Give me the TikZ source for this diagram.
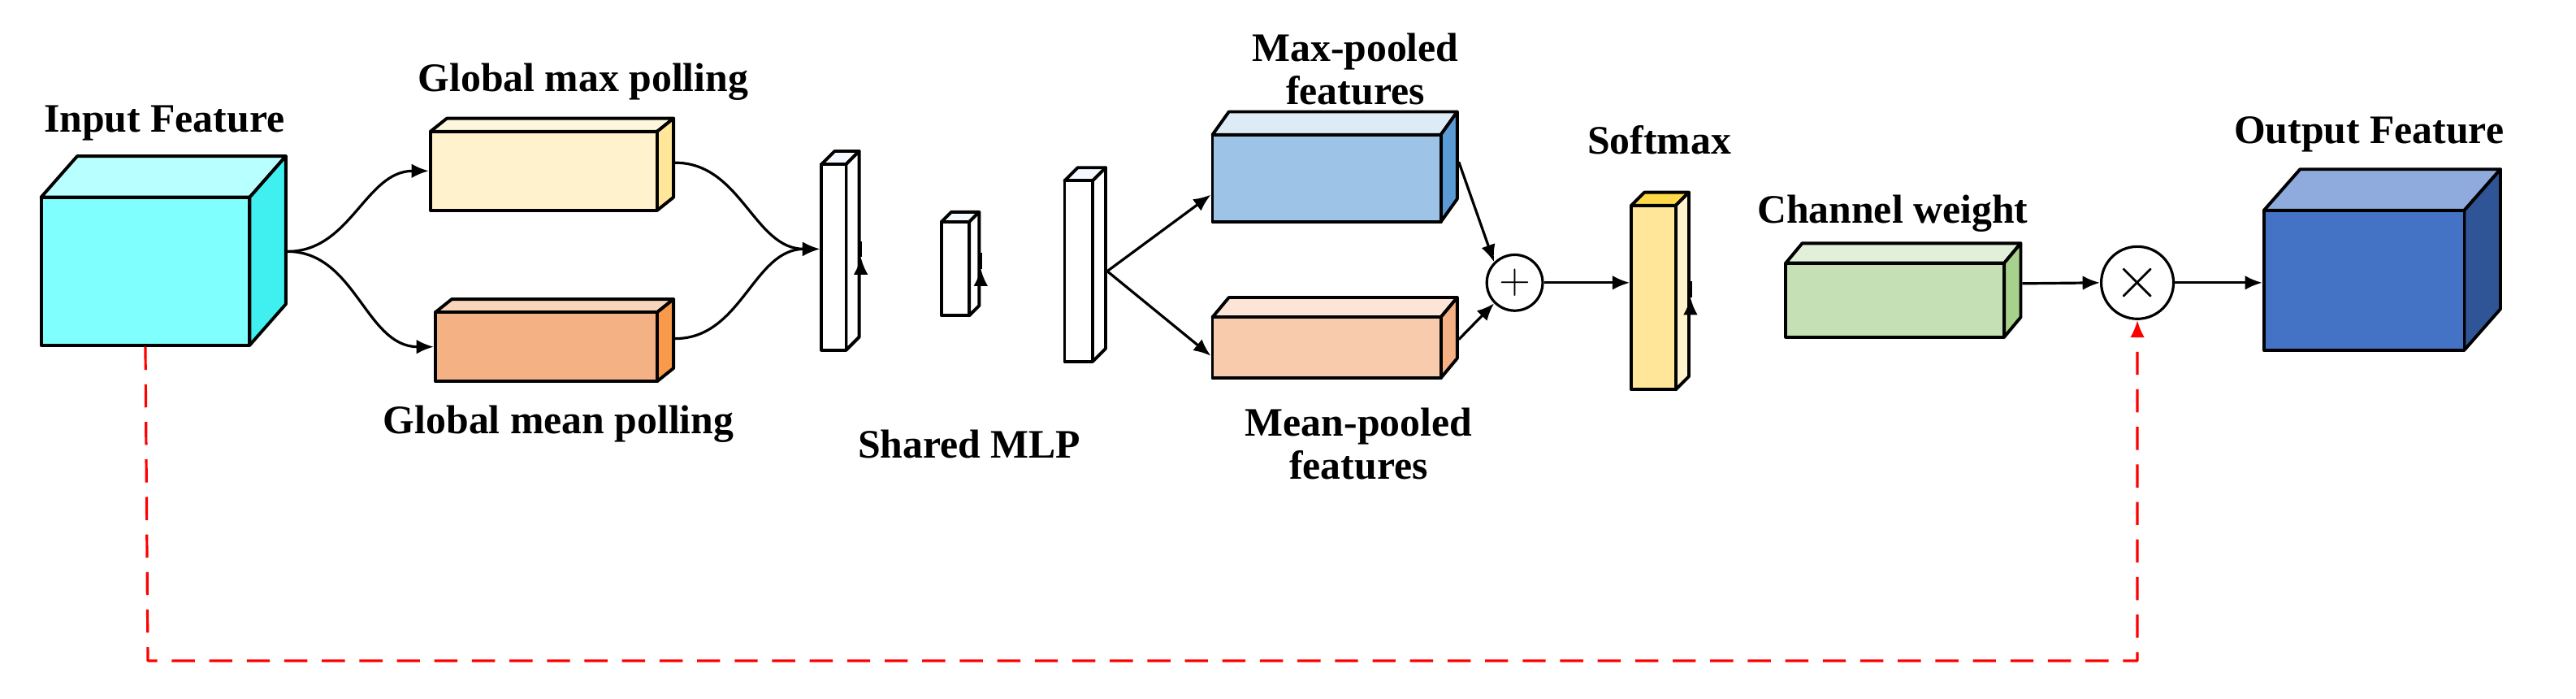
\documentclass[tikz,border=0pt]{standalone}
\usepackage{fontspec}
\setmainfont{Liberation Serif}
\usetikzlibrary{fit,arrows.meta,calc}
\definecolor{inF}{HTML}{80FFFF}\definecolor{inT}{HTML}{B8FFFF}\definecolor{inS}{HTML}{40F0F0}
\definecolor{gxF}{HTML}{FFF2CC}\definecolor{gxT}{HTML}{FFF7DD}\definecolor{gxS}{HTML}{FFE699}
\definecolor{gnF}{HTML}{F4B183}\definecolor{gnT}{HTML}{F8D5BB}\definecolor{gnS}{HTML}{F89A4A}
\definecolor{wbF}{HTML}{FFFFFF}\definecolor{wbT}{HTML}{F4F8FF}\definecolor{wbS}{HTML}{FFFFFF}
\definecolor{mpF}{HTML}{9DC3E6}\definecolor{mpT}{HTML}{DDEBF7}\definecolor{mpS}{HTML}{5B9BD5}
\definecolor{npF}{HTML}{F8CBAD}\definecolor{npT}{HTML}{FCE4D6}\definecolor{npS}{HTML}{F4B183}
\definecolor{smF}{HTML}{FFE699}\definecolor{smT}{HTML}{FFD94A}\definecolor{smS}{HTML}{FFF2CC}
\definecolor{cwF}{HTML}{C5E0B4}\definecolor{cwT}{HTML}{E2F0D9}\definecolor{cwS}{HTML}{A9D18E}
\definecolor{ouF}{HTML}{4472C4}\definecolor{ouT}{HTML}{8FAADC}\definecolor{ouS}{HTML}{2F5597}
% name, x1,y1,x2,y2 (front), dx, dy, colour prefix
\newcommand\mycube[8]{%
  \filldraw[fill=#8T] (#2,#3) -- ++(#6,-#7) -- ++(#4-#2,0) -- (#4,#3) -- cycle;
  \filldraw[fill=#8S] (#4,#3) -- ++(#6,-#7) -- ++(0,#5-#3) -- (#4,#5) -- cycle;
  \node[fit={(#2,#3)(#4,#5)}, inner sep=0pt, draw, fill=#8F] (#1) {};
}
\begin{document}
\begin{tikzpicture}[x=0.02cm,y=-0.02cm,line width=1.1pt,line join=round,
  lbl/.style={font=\fontsize{14}{15}\selectfont\bfseries, align=center},
  arr/.style={-{Latex[length=6pt,width=5pt]}, line width=0.9pt},
  op/.style={circle, draw, fill=white, line width=0.9pt, inner sep=0pt}]
\useasboundingbox (0,0) rectangle (1568,425);
\mycube{in}{25}{120}{152}{210}{22}{25}{in}
\mycube{gmax}{262}{80}{400}{128}{10}{8}{gx}
\mycube{gmean}{265}{190}{400}{232}{10}{8}{gn}
\mycube{b1}{500}{100}{515}{213}{8}{8}{wb}
\mycube{b2}{573}{135}{590}{192}{6}{6}{wb}
\mycube{b3}{648}{110}{665}{220}{8}{8}{wb}
\mycube{mp}{738}{82}{877}{135}{10}{14}{mp}
\mycube{np}{738}{193}{877}{230}{10}{12}{np}
\mycube{sm}{993}{125}{1020}{237}{8}{8}{sm}
\mycube{cw}{1087}{160}{1220}{205}{10}{12}{cw}
\mycube{out}{1378}{128}{1500}{213}{22}{25}{ou}
\node[op, minimum size=0.68cm, font=\Large] (plus) at (922,172) {$+$};
\node[op, minimum size=0.88cm, font=\huge] (times) at (1301,172) {$\times$};
% labels
\node[lbl] (tin) at (100,75) {Input Feature};
\node[lbl] (tgx) at (355,50) {Global max polling};
\node[lbl] (tgn) at (340,258) {Global mean polling};
\node[lbl] (tml) at (590,270) {Shared MLP};
\node[lbl] (tmp) at (825,42) {Max-pooled\\features};
\node[lbl] (tnp) at (827,270) {Mean-pooled\\features};
\node[lbl] (tsm) at (1010,85) {Softmax};
\node[lbl] (tcw) at (1152,130) {Channel weight};
\node[lbl] (tou) at (1442,82) {Output Feature};
% connectors
\draw[arr] ($(in.east)+(22,-12)$) to[out=0,in=180] (gmax.west);
\draw[arr] ($(in.east)+(22,-12)$) to[out=0,in=180] (gmean.west);
\draw[arr] ($(gmax.east)+(10,-5)$) to[out=0,in=180] ($(b1.west)+(0,-5)$);
\draw[arr] ($(gmean.east)+(10,-5)$) to[out=0,in=180] ($(b1.west)+(0,-5)$);
\draw[arr] ($(b1.east)+(8,0)$) -- ($(b1.east)+(8,0)$ -| b2.west);
\draw[arr] ($(b2.east)+(6,0)$) -- ($(b2.east)+(6,0)$ -| b3.west);
\draw[arr] ($(b3.east)+(8,0)$) -- ($(mp.west)+(0,10)$);
\draw[arr] ($(b3.east)+(8,0)$) -- ($(np.west)+(0,5)$);
\draw[arr] ($(mp.east)+(10,-10)$) -- (plus.north west);
\draw[arr] ($(np.east)+(10,-5)$) -- (plus.south west);
\draw[arr] (plus.east) -- (plus.east -| sm.west);
\draw[arr] ($(sm.east)+(8,0)$) -- ($(sm.east)+(8,0)$ -| cw.west);
\draw[arr] ($(cw.east)+(10,-10)$) -- (times.west);
\draw[arr] (times.east) -- (times.east -| out.west);
\coordinate (dash) at (90,402);
\draw[arr, red, dashed, dash pattern=on 8pt off 5pt] (in.south) -- (dash) -| (times.south);
\end{tikzpicture}
\end{document}
